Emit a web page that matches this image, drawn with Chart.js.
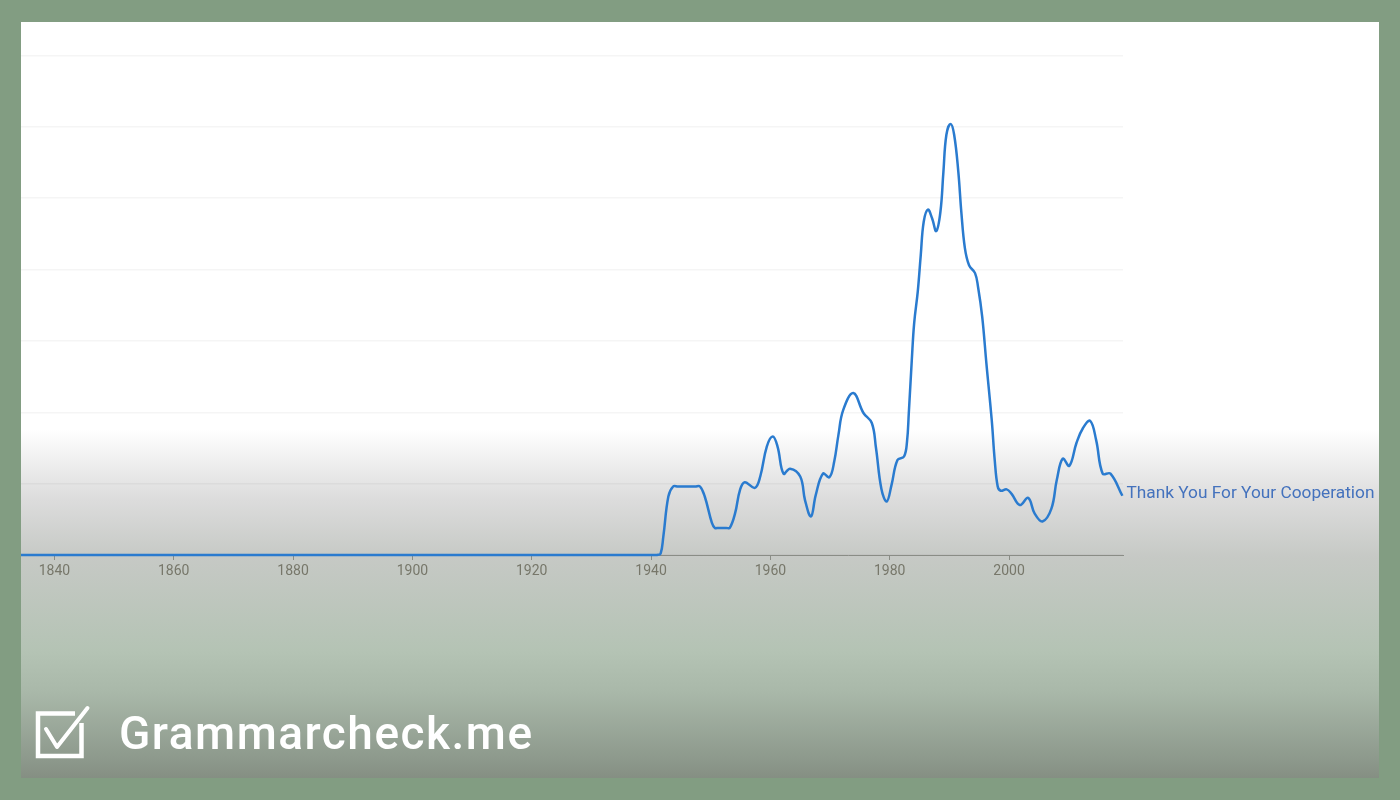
<!DOCTYPE html>
<html lang="en">
<head>
    <meta charset="UTF-8">
    <title>Thank You For Your Cooperation</title>
    <script src="https://cdn.jsdelivr.net/npm/chart.js"></script>
    <style>
        html, body {
            margin: 0;
            padding: 0;
            width: 1400px;
            height: 800px;
            overflow: hidden;
            background-color: #829d82;
        }
        #panel {
            position: absolute;
            left: 21px;
            top: 22px;
            width: 1358px;
            height: 756px;
            background: linear-gradient(to bottom,
                #ffffff 0px, #ffffff 408px, #dcdcdc 478px, #c6c9c5 535px,
                #b4c3b4 630px, #a9b8a9 670px, #8e9a8d 735px, #858f83 756px);
        }
        #wrap {
            position: absolute;
            left: 0;
            top: 0;
            width: 1400px;
            height: 800px;
        }
        #logo {
            position: absolute;
            left: 30px;
            top: 700px;
        }
        #brand {
            position: absolute;
            left: 119px;
            top: 703px;
            color: #fff;
            font-family: Roboto, sans-serif;
            font-weight: 500;
            font-size: 46px;
            line-height: 60px;
            letter-spacing: 1.5px;
            white-space: nowrap;
        }
    </style>
</head>
<body>
    <div id="panel"></div>
    <div id="wrap"><canvas id="myChart" width="1400" height="800"></canvas></div>

    <svg id="logo" width="64" height="66" viewBox="0 0 64 66" fill="none" stroke="#fff" stroke-width="4.5">
        <path d="M45 13.5 H8 V56 H51.5 V23" />
        <path d="M16 29 L27 47 L57.5 8" stroke-width="4" stroke-linecap="round" stroke-linejoin="round" />
    </svg>
    <div id="brand">Grammarcheck.me</div>

    <script>
        const seriesName = 'Thank You For Your Cooperation';
        const tickStep = 20;
        const years = [
            1834.4, 1940.4, 1941, 1941.6, 1942.06, 1942.9, 1943.7, 1944.5, 1947.4, 1948.2, 1949, 1950.2, 1950.7, 1951.3,
            1952.6, 1953.2, 1954.1, 1954.9, 1955.7, 1957.4, 1958.3, 1959.4, 1960.4, 1961.2, 1962.2,
            1963.3, 1965, 1965.8, 1966.8, 1967.6, 1968.8, 1969.9, 1970.7, 1971.4, 1972.2,
            1973.9, 1975.6, 1977, 1977.7, 1978.6, 1979.5, 1980.3, 1981.3, 1982.4, 1982.9,
            1983.2, 1983.7, 1984.1, 1984.7, 1985.2, 1985.7, 1986.4, 1987.1, 1987.8, 1988.5,
            1989, 1989.5, 1990.2, 1990.8, 1991.5, 1992, 1992.6, 1993.3, 1994.3, 1994.8,
            1995.5, 1996.2, 1997.1, 1997.6, 1998.1, 1998.6, 1999.6, 2000.4, 2001.8, 2003.2,
            2004.3, 2005.6, 2007.1, 2008, 2009, 2010.1, 2011.3, 2012.4, 2013.6, 2014.6,
            2015.7, 2017, 2019
        ];
        const values = [
            0, 0, 0, 0.02, 0.26, 0.82, 0.96, 0.96, 0.96, 0.96, 0.82, 0.45, 0.38, 0.38,
            0.38, 0.38, 0.59, 0.91, 1.02, 0.94, 1.10, 1.52, 1.66, 1.52, 1.14,
            1.21, 1.10, 0.77, 0.54, 0.84, 1.14, 1.09, 1.31, 1.68, 2.03,
            2.27, 1.99, 1.85, 1.50, 0.93, 0.75, 0.98, 1.33, 1.38, 1.59,
            1.99, 2.73, 3.25, 3.69, 4.20, 4.67, 4.84, 4.72, 4.54, 4.81,
            5.37, 5.89, 6.04, 5.89, 5.37, 4.81, 4.30, 4.06, 3.95, 3.76,
            3.34, 2.69, 1.89, 1.33, 0.96, 0.90, 0.92, 0.86, 0.70, 0.80,
            0.58, 0.47, 0.65, 1.05, 1.35, 1.25, 1.57, 1.78, 1.88, 1.61,
            1.14, 1.14, 0.83
        ];

        // nombre de la serie al final de la linea
        const endLabel = {
            id: 'endLabel',
            afterDatasetsDraw(chart) {
                const last = chart.getDatasetMeta(0).data[years.length - 1];
                const ctx = chart.ctx;
                ctx.save();
                ctx.font = '17.3px Roboto, sans-serif';
                ctx.fillStyle = '#4472bd';
                ctx.textBaseline = 'middle';
                ctx.textAlign = 'left';
                ctx.fillText(seriesName, last.x + 4, last.y - 2);
                ctx.restore();
            }
        };

        new Chart(document.getElementById('myChart').getContext('2d'), {
            type: 'line',
            data: {
                datasets: [{
                    label: seriesName,
                    data: years.map((year, i) => ({ x: year, y: values[i] })),
                    borderColor: '#2a7bcf',
                    borderWidth: 2.5,
                    pointRadius: 0,
                    tension: 0.4,
                    clip: false,
                    fill: false
                }]
            },
            options: {
                responsive: false,
                animation: false,
                layout: { padding: { left: 21, right: 277, top: 55.5, bottom: 215 } },
                plugins: { legend: { display: false }, tooltip: { enabled: false } },
                scales: {
                    x: {
                        type: 'linear',
                        min: 1834.4,
                        max: 2019.1,
                        afterFit(scale) { scale.height = 30; },
                        border: { color: '#8a8d86', width: 1 },
                        grid: { drawOnChartArea: false, drawTicks: true, tickLength: 5, color: '#8a8d86' },
                        ticks: {
                            stepSize: tickStep,
                            includeBounds: false,
                            maxRotation: 0,
                            padding: 3,
                            color: '#77776a',
                            font: { family: 'Roboto, sans-serif', size: 14 },
                            callback: value => String(value)
                        }
                    },
                    y: {
                        min: 0,
                        max: 7,
                        afterFit(scale) { scale.width = 0; },
                        border: { display: false },
                        grid: { color: 'rgba(120,120,120,0.07)', lineWidth: 1.5, drawTicks: false },
                        ticks: { stepSize: 1, display: false }
                    }
                }
            },
            plugins: [endLabel]
        });
    </script>
</body>
</html>
